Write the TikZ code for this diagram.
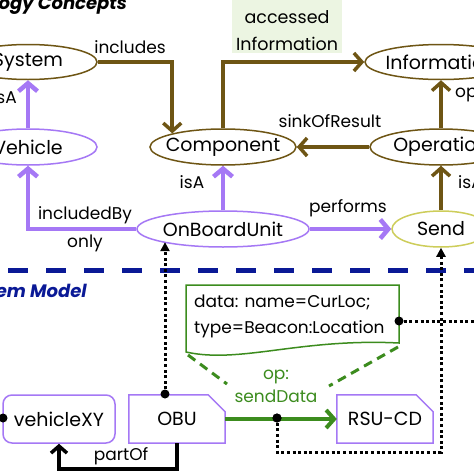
\documentclass[tikz,border=0pt]{standalone}
\usepackage{fontspec}
\setmainfont{Poppins}
\usetikzlibrary{shapes.geometric,arrows.meta}
\definecolor{brn}{RGB}{110,85,20}
\definecolor{prp}{RGB}{165,120,245}
\definecolor{ylw}{RGB}{205,205,90}
\definecolor{grn}{RGB}{60,140,30}
\definecolor{nvy}{RGB}{10,25,150}
\definecolor{lgrn}{RGB}{236,245,226}
\begin{document}
\begin{tikzpicture}[x=1pt,y=-1pt,
  ell/.style={ellipse, line width=1.5pt, inner sep=0pt, font=\fontsize{19}{23}\selectfont},
  lbl/.style={font=\fontsize{17}{21}\selectfont, inner sep=1pt},
  boxn/.style={inner sep=0pt, minimum width=96pt, minimum height=48pt, font=\fontsize{19}{23}\selectfont},
  brarr/.style={draw=brn, line width=3.5pt, -{Straight Barb[length=8pt,width=18pt]}},
  prarr/.style={draw=prp, line width=4.5pt, -{Straight Barb[length=8pt,width=19pt]}},
  grarr/.style={draw=grn, line width=4pt, -{Straight Barb[length=8pt,width=18pt]}},
  bkarr/.style={draw=black, line width=3.5pt, -{Straight Barb[length=7pt,width=16pt]}},
  dotl/.style={draw=black, line width=3pt, dash pattern=on 3pt off 2.6pt},
  dtip/.style={-{Triangle[length=9pt,width=9pt]}},
  blob/.style={circle, fill=black, inner sep=0pt, minimum size=9pt},
  gdash/.style={draw=grn, line width=3pt, dash pattern=on 9pt off 6pt},
  ttl/.style={anchor=base east, inner sep=0pt, font=\fontsize{18}{22}\selectfont\bfseries\itshape}
]
\path[use as bounding box] (0,0) rectangle (474,474);
\clip (0,0) rectangle (474,474);
\fill[white] (0,0) rectangle (474,474);

% titles
\node[ttl] (tOnt) at (127,9) {Ontology Concepts};
\node[ttl, text=nvy] (tSys) at (87,297) {System Model};

% separator
\draw[nvy, line width=5pt, dash pattern=on 20pt off 18pt] (-30,270) -- (490,270);

% ontology nodes
\node[ell, draw=brn, minimum width=138pt, minimum height=35pt] (System) at (28,62) {\makebox[0pt]{System}};
\node[ell, draw=prp, minimum width=138pt, minimum height=36pt] (Vehicle) at (28,147) {\makebox[0pt]{Vehicle}};
\node[ell, draw=brn, minimum width=146pt, minimum height=36pt] (Component) at (223,147) {\makebox[0pt]{Component}};
\node[ell, draw=prp, minimum width=172pt, minimum height=36pt] (OnBoardUnit) at (223,229) {\makebox[0pt]{OnBoardUnit}};
\node[ell, draw=brn, minimum width=152pt, minimum height=35pt] (Information) at (441,62) {\makebox[0pt]{Information}};
\node[ell, draw=brn, minimum width=142pt, minimum height=36pt] (Operation) at (441,147) {\makebox[0pt]{Operation}};
\node[ell, draw=ylw, minimum width=98pt, minimum height=36pt] (Send) at (441,229) {\makebox[0pt]{Send}};

% accessed information box
\fill[lgrn] (232,-5) rectangle (342,53);
\node[lbl, align=center, font=\fontsize{17.5}{27}\selectfont] (lAcc) at (287,31) {accessed\\Information};

% ontology connectors
\draw[brarr] (System.east) -| (Component.165.8);
\draw[brarr] (Component.north) |- (Information.west);
\draw[brarr] (Operation.west) -- (Component.east);
\draw[brarr] (Operation.north) -- (Information.south);
\draw[brarr] (Send.north) -- (Operation.south);
\draw[prarr] (Vehicle.north) -- (System.south);
\draw[prarr] (OnBoardUnit.north) -- (Component.south);
\draw[prarr] (OnBoardUnit.west) -| (Vehicle.south);
\draw[prarr] (OnBoardUnit.east) -- (Send.west);

% ontology labels
\node[lbl] (lIncl) at (130,47) {includes};
\node[lbl] (lSink) at (330,121) {sinkOfResult};
\node[lbl, anchor=west] (lOp) at (454,95) {op};
\node[lbl, anchor=west] (lIsA1) at (457,182) {isA};
\node[lbl, anchor=east] (lIsA2) at (18,97) {isA};
\node[lbl] (lIsA3) at (192,182) {isA};
\node[lbl] (lIncBy) at (85,215) {includedBy};
\node[lbl] (lOnly) at (85,243) {only};
\node[lbl] (lPerf) at (348,208) {performs};

% system model nodes
\node[boxn, draw=prp, line width=1.5pt, rounded corners=9pt, minimum width=112pt] (vehicleXY) at (59,419) {vehicleXY};
\node[boxn] (OBU) at (177,419) {OBU};
\draw[prp, line width=1.5pt] (OBU.north west) -- ([xshift=-17pt]OBU.north east) -- ([yshift=-17pt]OBU.north east) -- (OBU.south east) -- (OBU.south west) -- cycle;
\node[boxn] (RSU) at (385,419) {RSU-CD};
\draw[prp, line width=1.5pt] (RSU.north west) -- ([xshift=-17pt]RSU.north east) -- ([yshift=-17pt]RSU.north east) -- (RSU.south east) -- (RSU.south west) -- cycle;

% note
\draw[grn, line width=1.5pt, fill=white] (186,285) -- (399,285) -- (399,343) .. controls (300,338) and (240,364) .. (186,352) -- cycle;
\node[anchor=west, align=left, inner sep=0pt, font=\fontsize{17}{26}\selectfont] (note) at (194,316) {data: name=CurLoc;\\type=Beacon:Location};

% op label
\node[lbl, text=grn, align=center, font=\fontsize{17}{23}\selectfont] (opl) at (276,386) {op:\\sendData};
\coordinate (dL0) at (188,355);
\coordinate (dL1) at (227,384);
\coordinate (dR0) at (398,347);
\coordinate (dR1) at (329,386);
\draw[gdash] (dL0) -- (dL1);
\draw[gdash] (dR0) -- (dR1);

% system model connectors
\draw[grarr] (OBU.east) -- (RSU.west);
\coordinate (pBot) at (177,469);
\draw[bkarr] (OBU.south) -- (pBot) -| (vehicleXY.south);
\node[lbl] (lPart) at (121,456) {partOf};

% dotted links
\node[blob] (gdot) at (277,418) {};
\node[blob] (odot) at (165,394) {};
\node[blob] (ndot) at (399,321) {};
\node[blob] (vdot) at (3,418) {};
\coordinate (cBR) at (441,452);
\coordinate (nEnd) at (490,321);
\draw[dotl, dtip] (gdot) |- (cBR) -- (Send.south);
\draw[dotl, dtip] (odot) -- (odot |- OnBoardUnit.192.9);
\draw[dotl] (ndot) -- (nEnd);
\node[blob] at (gdot) {};
\end{tikzpicture}
\end{document}
